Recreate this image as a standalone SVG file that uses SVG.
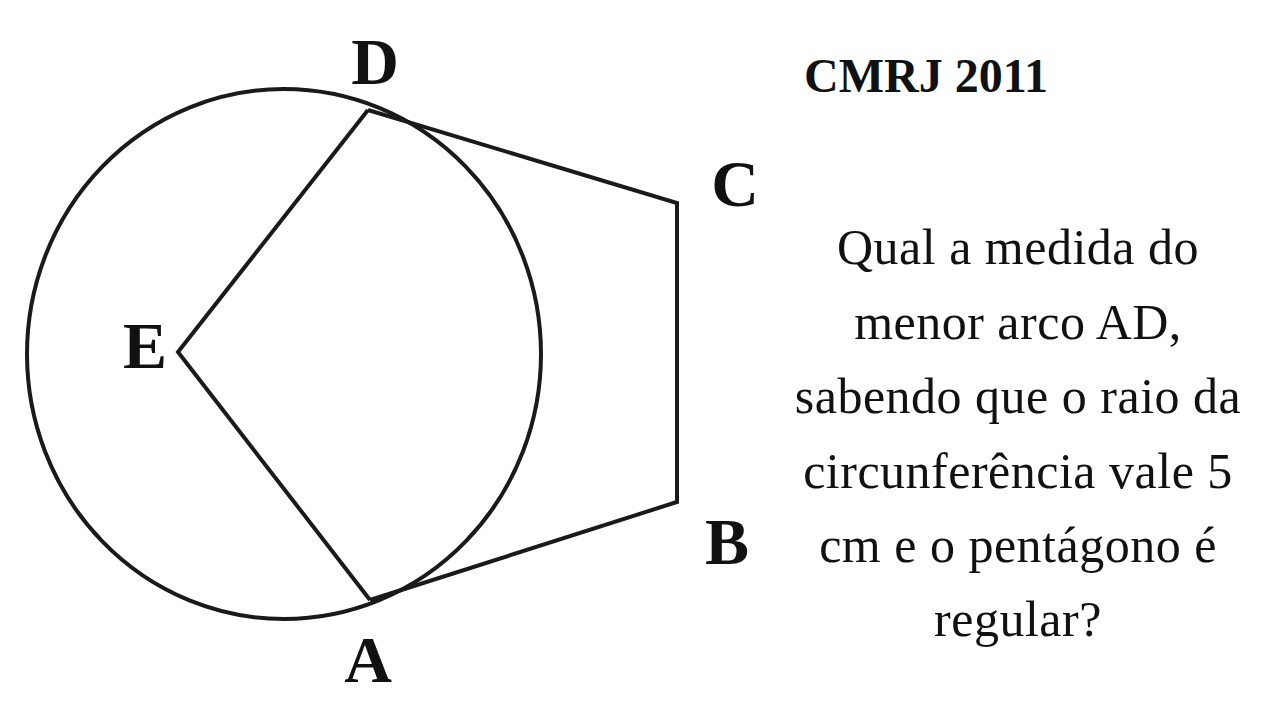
<svg xmlns="http://www.w3.org/2000/svg" width="1280" height="720" viewBox="0 0 1280 720">
<style>
.s{fill:none;stroke:#1a1a1a;stroke-width:4;stroke-linejoin:miter}
.l{font-family:"Liberation Serif",serif;font-weight:bold;font-size:66px;fill:#111;text-anchor:middle}
.q{font-family:"Liberation Serif",serif;font-size:50px;fill:#111;text-anchor:middle;letter-spacing:0.5px}
</style>
<rect width="1280" height="720" fill="#fff"/>
<g id="connectors">
<ellipse class="s" cx="284" cy="354" rx="257" ry="265"/>
<polyline class="s" points="368,110 677,203 677,502 370,600"/>
<polyline class="s" points="368,110 178,352 370,600"/>
</g>
<g id="D"><text class="l" x="375" y="84">D</text></g>
<g id="C"><text class="l" x="735" y="206">C</text></g>
<g id="B"><text class="l" x="727" y="564">B</text></g>
<g id="A"><text class="l" x="368" y="682">A</text></g>
<g id="E"><text class="l" x="145" y="368">E</text></g>
<g id="title"><text x="926" y="92" style="font-family:'Liberation Serif',serif;font-weight:bold;font-size:48px;fill:#111;text-anchor:middle">CMRJ 2011</text></g>
<g id="question">
<text class="q" x="1018" y="264">Qual a medida do</text>
<text class="q" x="1018" y="339">menor arco AD,</text>
<text class="q" x="1018" y="413">sabendo que o raio da</text>
<text class="q" x="1018" y="488">circunferência vale 5</text>
<text class="q" x="1018" y="562">cm e o pentágono é</text>
<text class="q" x="1018" y="636">regular?</text>
</g>
</svg>
